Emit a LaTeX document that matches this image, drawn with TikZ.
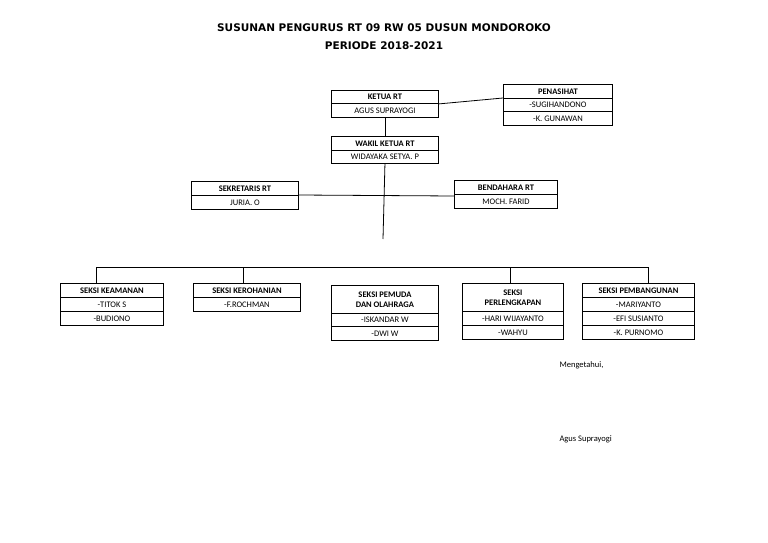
\documentclass[tikz,border=0pt]{standalone}
\usepackage{fontspec}
\setmainfont{Carlito}
\newfontfamily\titlefont{DejaVu Sans}
\begin{document}
\begin{tikzpicture}[x=1pt,y=-1pt,
  cell/.style={draw,line width=0.9pt,inner sep=0pt,anchor=north west,align=center,font=\fontsize{8.5}{10}\selectfont},
  hd/.style={cell,font=\fontsize{8.5}{10}\selectfont\bfseries},
  ln/.style={line width=0.8pt}]
\useasboundingbox (0,0) rectangle (768,543);
\node[font=\titlefont\bfseries\fontsize{10.5}{12}\selectfont] (t1) at (384,28) {SUSUNAN PENGURUS RT 09 RW 05 DUSUN MONDOROKO};
\node[font=\titlefont\bfseries\fontsize{10.5}{12}\selectfont] (t2) at (384,46) {PERIODE 2018-2021};
% Ketua
\node[hd,minimum width=107,minimum height=13] (k1) at (331,90) {KETUA RT};
\node[cell,minimum width=107,minimum height=14] (k2) at (331,103) {AGUS SUPRAYOGI};
% Penasihat
\node[hd,minimum width=109,minimum height=14] (p1) at (503,84) {PENASIHAT};
\node[cell,minimum width=109,minimum height=13] (p2) at (503,98) {-SUGIHANDONO};
\node[cell,minimum width=109,minimum height=14] (p3) at (503,111) {-K. GUNAWAN};
% Wakil
\node[hd,minimum width=107,minimum height=14] (w1) at (331,136) {WAKIL KETUA RT};
\node[cell,minimum width=107,minimum height=13] (w2) at (331,150) {WIDAYAKA SETYA. P};
% Sekretaris
\node[hd,minimum width=107,minimum height=14] (s1) at (191,181) {SEKRETARIS RT};
\node[cell,minimum width=107,minimum height=14] (s2) at (191,195) {JURIA. O};
% Bendahara
\node[hd,minimum width=103,minimum height=14] (b1) at (454,180) {BENDAHARA RT};
\node[cell,minimum width=103,minimum height=14] (b2) at (454,194) {MOCH. FARID};
% connectors
\coordinate (c1) at (383,196);
\coordinate (c2) at (383,239);
\draw[ln] (k2.south) -- (w1.north);
\draw[ln] (w2.south) -- (c2);
\draw[ln] (k1.south east) -- (p2.north west);
\draw[ln] (s2.north east) -- (b2.west|-c1);
% bottom sections
\node[hd,minimum width=103,minimum height=14] (a1) at (60,283) {SEKSI KEAMANAN};
\node[cell,minimum width=103,minimum height=14] (a2) at (60,297) {-TITOK S};
\node[cell,minimum width=103,minimum height=14] (a3) at (60,311) {-BUDIONO};
\node[hd,minimum width=107,minimum height=14] (r1) at (193,283) {SEKSI KEROHANIAN};
\node[cell,minimum width=107,minimum height=14] (r2) at (193,297) {-F.ROCHMAN};
\node[hd,minimum width=107,minimum height=28] (m1) at (331,285) {SEKSI PEMUDA\\DAN OLAHRAGA};
\node[cell,minimum width=107,minimum height=13] (m2) at (331,313) {-ISKANDAR W};
\node[cell,minimum width=107,minimum height=14] (m3) at (331,326) {-DWI W};
\node[hd,minimum width=101,minimum height=28] (l1) at (462,283) {SEKSI\\PERLENGKAPAN};
\node[cell,minimum width=101,minimum height=14] (l2) at (462,311) {-HARI WIJAYANTO};
\node[cell,minimum width=101,minimum height=14] (l3) at (462,325) {-WAHYU};
\node[hd,minimum width=112,minimum height=14] (g1) at (582,283) {SEKSI PEMBANGUNAN};
\node[cell,minimum width=112,minimum height=14] (g2) at (582,297) {-MARIYANTO};
\node[cell,minimum width=112,minimum height=14] (g3) at (582,311) {-EFI SUSIANTO};
\node[cell,minimum width=112,minimum height=14] (g4) at (582,325) {-K. PURNOMO};
\coordinate (hL) at (96,267);
\coordinate (hR) at (648,267);
\draw[ln] (hL) -- (hR);
\draw[ln] (hL) -- (hL|-a1.north);
\draw[ln] (243,267) -- (243,283);
\draw[ln] (510,267) -- (510,283);
\draw[ln] (hR) -- (hR|-g1.north);
\node[anchor=west,font=\fontsize{8.5}{10}\selectfont] (mg) at (556,365) {Mengetahui,};
\node[anchor=west,font=\fontsize{8.5}{10}\selectfont] (ag) at (556,439) {Agus Suprayogi};
\end{tikzpicture}
\end{document}
